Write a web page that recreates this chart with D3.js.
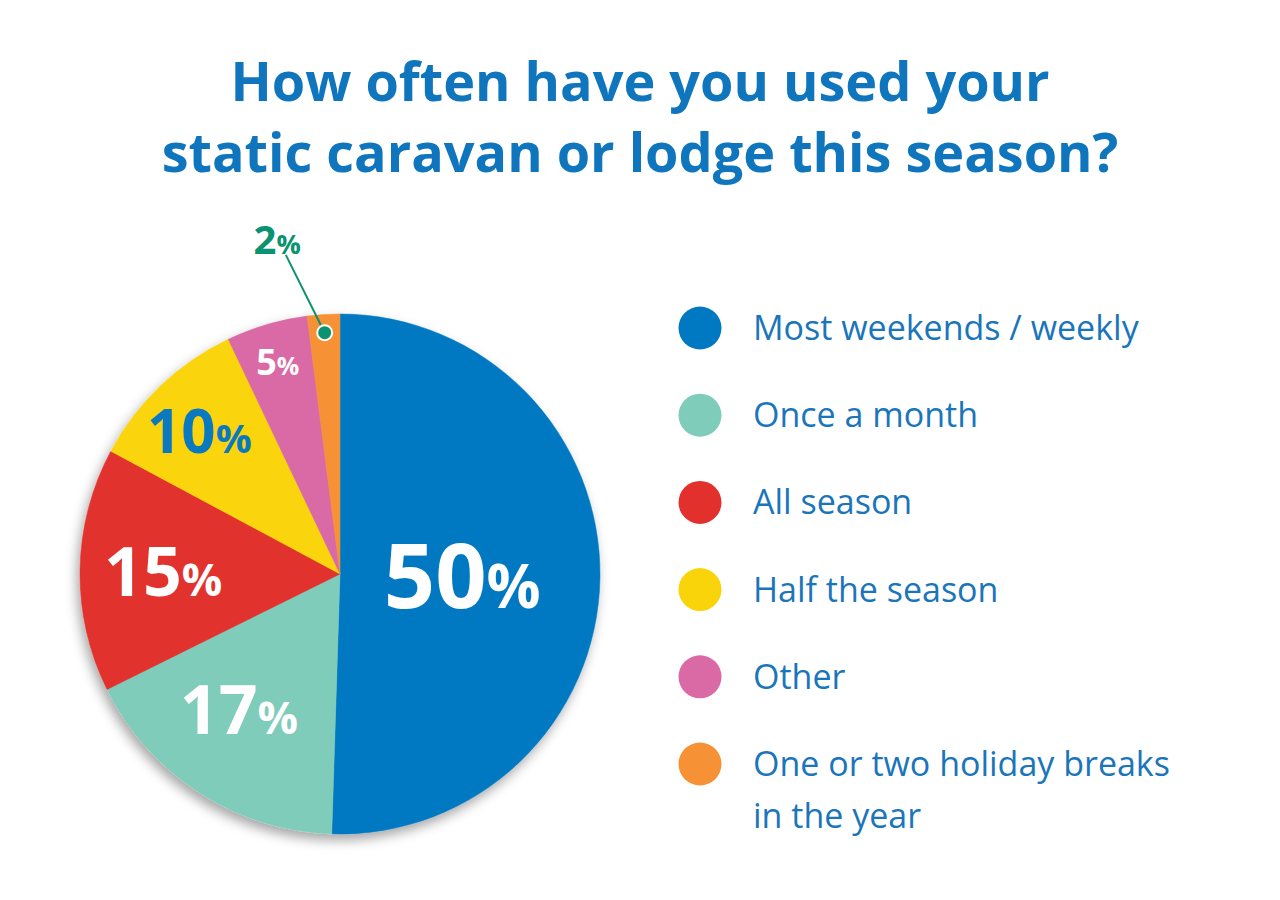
<!DOCTYPE html>
<html>
<head>
<meta charset="utf-8">
<script src="https://cdn.jsdelivr.net/npm/d3@7"></script>
<style>
  body { margin: 0; background: #fff; }
  svg { display: block; font-family: "Open Sans", "Noto Sans", sans-serif; }
</style>
</head>
<body>
<svg id="canvas" width="1280" height="900"></svg>
<script>
// data
var categories = ['Most weekends / weekly', 'Once a month', 'All season',
                  'Half the season', 'Other', 'One or two holiday breaks in the year'];
var shares = [50, 17, 15, 10, 5, 2];
var colours = ['#0079c2', '#7fccbb', '#e2312d', '#fad40b', '#d96aa6', '#f69235'];
var titleLines = ['How often have you used your', 'static caravan or lodge this season?'];

var svg = d3.select('#canvas');

var cx = 340, cy = 574, R = 260;

// label layout, by slice
var labelRadius = [0.47, 0.65, 0.68, 0.77, 0.85, 0.93];
var labelTurn = [0, 4, 0, -1, 0, 0];   // degrees
var numSize = [90, 68, 68, 60, 36, 40];
var pctSize = [60, 45, 45, 40, 25, 27];
var labelFill = ['#fff', '#fff', '#fff', '#0a79c0', '#fff', '#0b9270'];

var defs = svg.append('defs');
var shadow = defs.append('filter')
    .attr('id', 'shadow')
    .attr('x', '-20%').attr('y', '-20%')
    .attr('width', '140%').attr('height', '140%');
shadow.append('feDropShadow')
    .attr('dx', -3)
    .attr('dy', 6)
    .attr('stdDeviation', 6)
    .attr('flood-color', '#000')
    .attr('flood-opacity', 0.35);

// title
svg.append('g')
    .selectAll('text')
    .data(titleLines)
    .enter()
    .append('text')
    .attr('x', 640)
    .attr('y', function(d, i) { return 101 + i * 71; })
    .attr('text-anchor', 'middle')
    .style('font-size', '54px')
    .style('font-weight', 700)
    .style('fill', '#0f75bd')
    .text(function(d) { return d; });

var pie = d3.pie().sort(null).value(function(d) { return d; });
var arcs = pie(shares);

var arc = d3.arc().innerRadius(0).outerRadius(R);

var g = svg.append('g')
    .attr('transform', 'translate(' + cx + ',' + cy + ')');

g.append('g')
    .attr('filter', 'url(#shadow)')
    .selectAll('path')
    .data(arcs)
    .enter()
    .append('path')
    .attr('d', arc)
    .style('fill', function(d, i) { return colours[i]; })
    .style('stroke', function(d, i) { return colours[i]; })
    .style('stroke-width', 0.5);

function labelPos(d, i) {
    var a = (d.startAngle + d.endAngle) / 2 + labelTurn[i] * Math.PI / 180;
    var r = R * labelRadius[i];
    return [Math.sin(a) * r, -Math.cos(a) * r];
}

function writeLabel(sel, i) {
    sel.attr('text-anchor', 'middle')
        .style('font-weight', 700)
        .style('fill', labelFill[i]);
    sel.append('tspan')
        .style('font-size', numSize[i] + 'px')
        .text(shares[i]);
    sel.append('tspan')
        .style('font-size', pctSize[i] + 'px')
        .text('%');
}

// labels inside the slices (all but the smallest)
arcs.forEach(function(d, i) {
    if (i === arcs.length - 1) return;
    var p = labelPos(d, i);
    var t = g.append('text')
        .attr('x', p[0])
        .attr('y', p[1] + numSize[i] * 0.36);
    writeLabel(t, i);
});

// smallest slice: dot, leader line and label outside
var last = arcs.length - 1;
var dl = arcs[last];
var dot = labelPos(dl, last);
var mid = (dl.startAngle + dl.endAngle) / 2;
var lineEnd = mid - 6 * Math.PI / 180;
var lx = Math.sin(lineEnd) * R * 1.245, ly = -Math.cos(lineEnd) * R * 1.245;
var tAng = mid - 7 * Math.PI / 180;
var tx = Math.sin(tAng) * R * 1.31, ty = -Math.cos(tAng) * R * 1.31;

g.append('line')
    .attr('x1', lx).attr('y1', ly)
    .attr('x2', dot[0]).attr('y2', dot[1])
    .style('stroke', labelFill[last])
    .style('stroke-width', 2);

g.append('circle')
    .attr('cx', dot[0])
    .attr('cy', dot[1])
    .attr('r', 7.5)
    .style('fill', labelFill[last])
    .style('stroke', '#fff')
    .style('stroke-width', 2);

var small = g.append('text')
    .attr('x', tx)
    .attr('y', ty + numSize[last] * 0.36);
writeLabel(small, last);

// legend
var legend = svg.append('g')
    .attr('transform', 'translate(700,328)');

var item = legend.selectAll('g')
    .data(categories)
    .enter()
    .append('g')
    .attr('transform', function(d, i) { return 'translate(0,' + (i * 87.2) + ')'; });

item.append('circle')
    .attr('r', 21.5)
    .style('fill', function(d, i) { return colours[i]; });

item.append('text')
    .attr('x', 53)
    .attr('y', 12)
    .style('font-size', '34px')
    .style('fill', '#1a75bb')
    .each(function(d) {
        var el = d3.select(this);
        var lines = d === 'One or two holiday breaks in the year'
            ? ['One or two holiday breaks', 'in the year'] : [d];
        lines.forEach(function(s, k) {
            el.append('tspan')
                .attr('x', 53)
                .attr('dy', k === 0 ? 0 : 52)
                .text(s);
        });
    });
</script>
</body>
</html>
